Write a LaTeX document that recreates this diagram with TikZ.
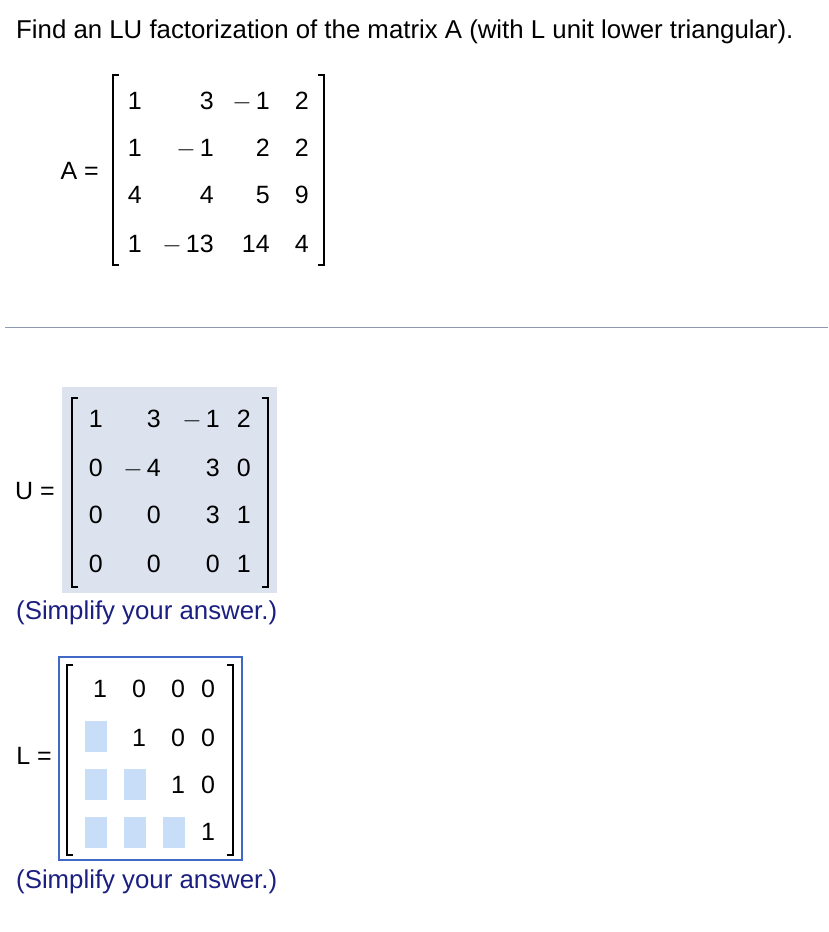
\documentclass[tikz,border=0pt]{standalone}
\usepackage{fontspec}
\setmainfont{Liberation Sans}
\definecolor{sepc}{HTML}{8E98B0}
\definecolor{ubg}{HTML}{DCE3EF}
\definecolor{lbox}{HTML}{4068C4}
\definecolor{cellc}{HTML}{C8DEF8}
\definecolor{navy}{HTML}{1A1F80}
\begin{document}
\begin{tikzpicture}[x=1pt,y=-1pt,
  txt/.style={inner sep=0pt,font=\fontsize{25}{29}\selectfont},
  el/.style={txt,anchor=base east},
  ec/.style={txt,anchor=base},
  hint/.style={txt,anchor=west,text=navy,font=\fontsize{25.8}{29}\selectfont},
  brk/.style={line width=1.6pt},
  cell/.style={fill=cellc,draw=none,minimum width=22pt,minimum height=31pt,inner sep=0pt}]
\useasboundingbox (0,0) rectangle (828,932);
\node[txt,anchor=west,font=\fontsize{25.8}{29}\selectfont] (title) at (16,32) {Find an LU factorization of the matrix A (with L unit lower triangular).};
% Matrix A
\node[txt,anchor=east] (Aeq) at (99,171) {A =};
\draw[brk] (119,75) -- (113,75) -- (113,265) -- (119,265);
\draw[brk] (318,75) -- (324,75) -- (324,265) -- (318,265);
\foreach \y/\a/\b/\c/\d in {109/1/3/{$-$\,1}/2, 156/1/{$-$\,1}/2/2, 203/4/4/5/9, 252/1/{$-$\,13}/14/4}{
  \node[el] at (142,\y) {\a};
  \node[el] at (214,\y) {\b};
  \node[el] at (270,\y) {\c};
  \node[el] at (309,\y) {\d};
}
\draw[color=sepc,line width=1pt] (5,327) -- (828,327);
% U
\fill[fill=ubg] (62,387) rectangle (277,593);
\node[txt,anchor=east] (Ueq) at (55,491) {U =};
\draw[brk] (78,398) -- (72,398) -- (72,587) -- (78,587);
\draw[brk] (262,398) -- (268,398) -- (268,587) -- (262,587);
\foreach \y/\a/\b/\c/\d in {427/1/3/{$-$\,1}/2, 476/0/{$-$\,4}/3/0, 523/0/0/3/1, 572/0/0/0/1}{
  \node[el] at (103,\y) {\a};
  \node[el] at (161,\y) {\b};
  \node[el] at (220,\y) {\c};
  \node[el] at (251,\y) {\d};
}
\node[hint] (s1) at (16,613) {(Simplify your answer.)};
% L
\draw[draw=lbox,line width=1.5pt] (59,657) rectangle (242,860);
\node[txt,anchor=east] (Leq) at (52,756) {L =};
\draw[brk] (73,665) -- (67,665) -- (67,855) -- (73,855);
\draw[brk] (227,665) -- (233,665) -- (233,855) -- (227,855);
\node[ec] at (100,697) {1}; \node[ec] at (139,697) {0}; \node[ec] at (178,697) {0}; \node[ec] at (208,697) {0};
\node[ec] at (139,746) {1}; \node[ec] at (178,746) {0}; \node[ec] at (208,746) {0};
\node[ec] at (178,793) {1}; \node[ec] at (208,793) {0};
\node[ec] at (208,840) {1};
\node[cell] (l21) at (96,736) {};
\node[cell] (l31) at (96,784) {};
\node[cell] (l32) at (135,784) {};
\node[cell] (l41) at (96,832) {};
\node[cell] (l42) at (135,832) {};
\node[cell] (l43) at (174,832) {};
\node[hint] (s2) at (16,882) {(Simplify your answer.)};
\end{tikzpicture}
\end{document}
